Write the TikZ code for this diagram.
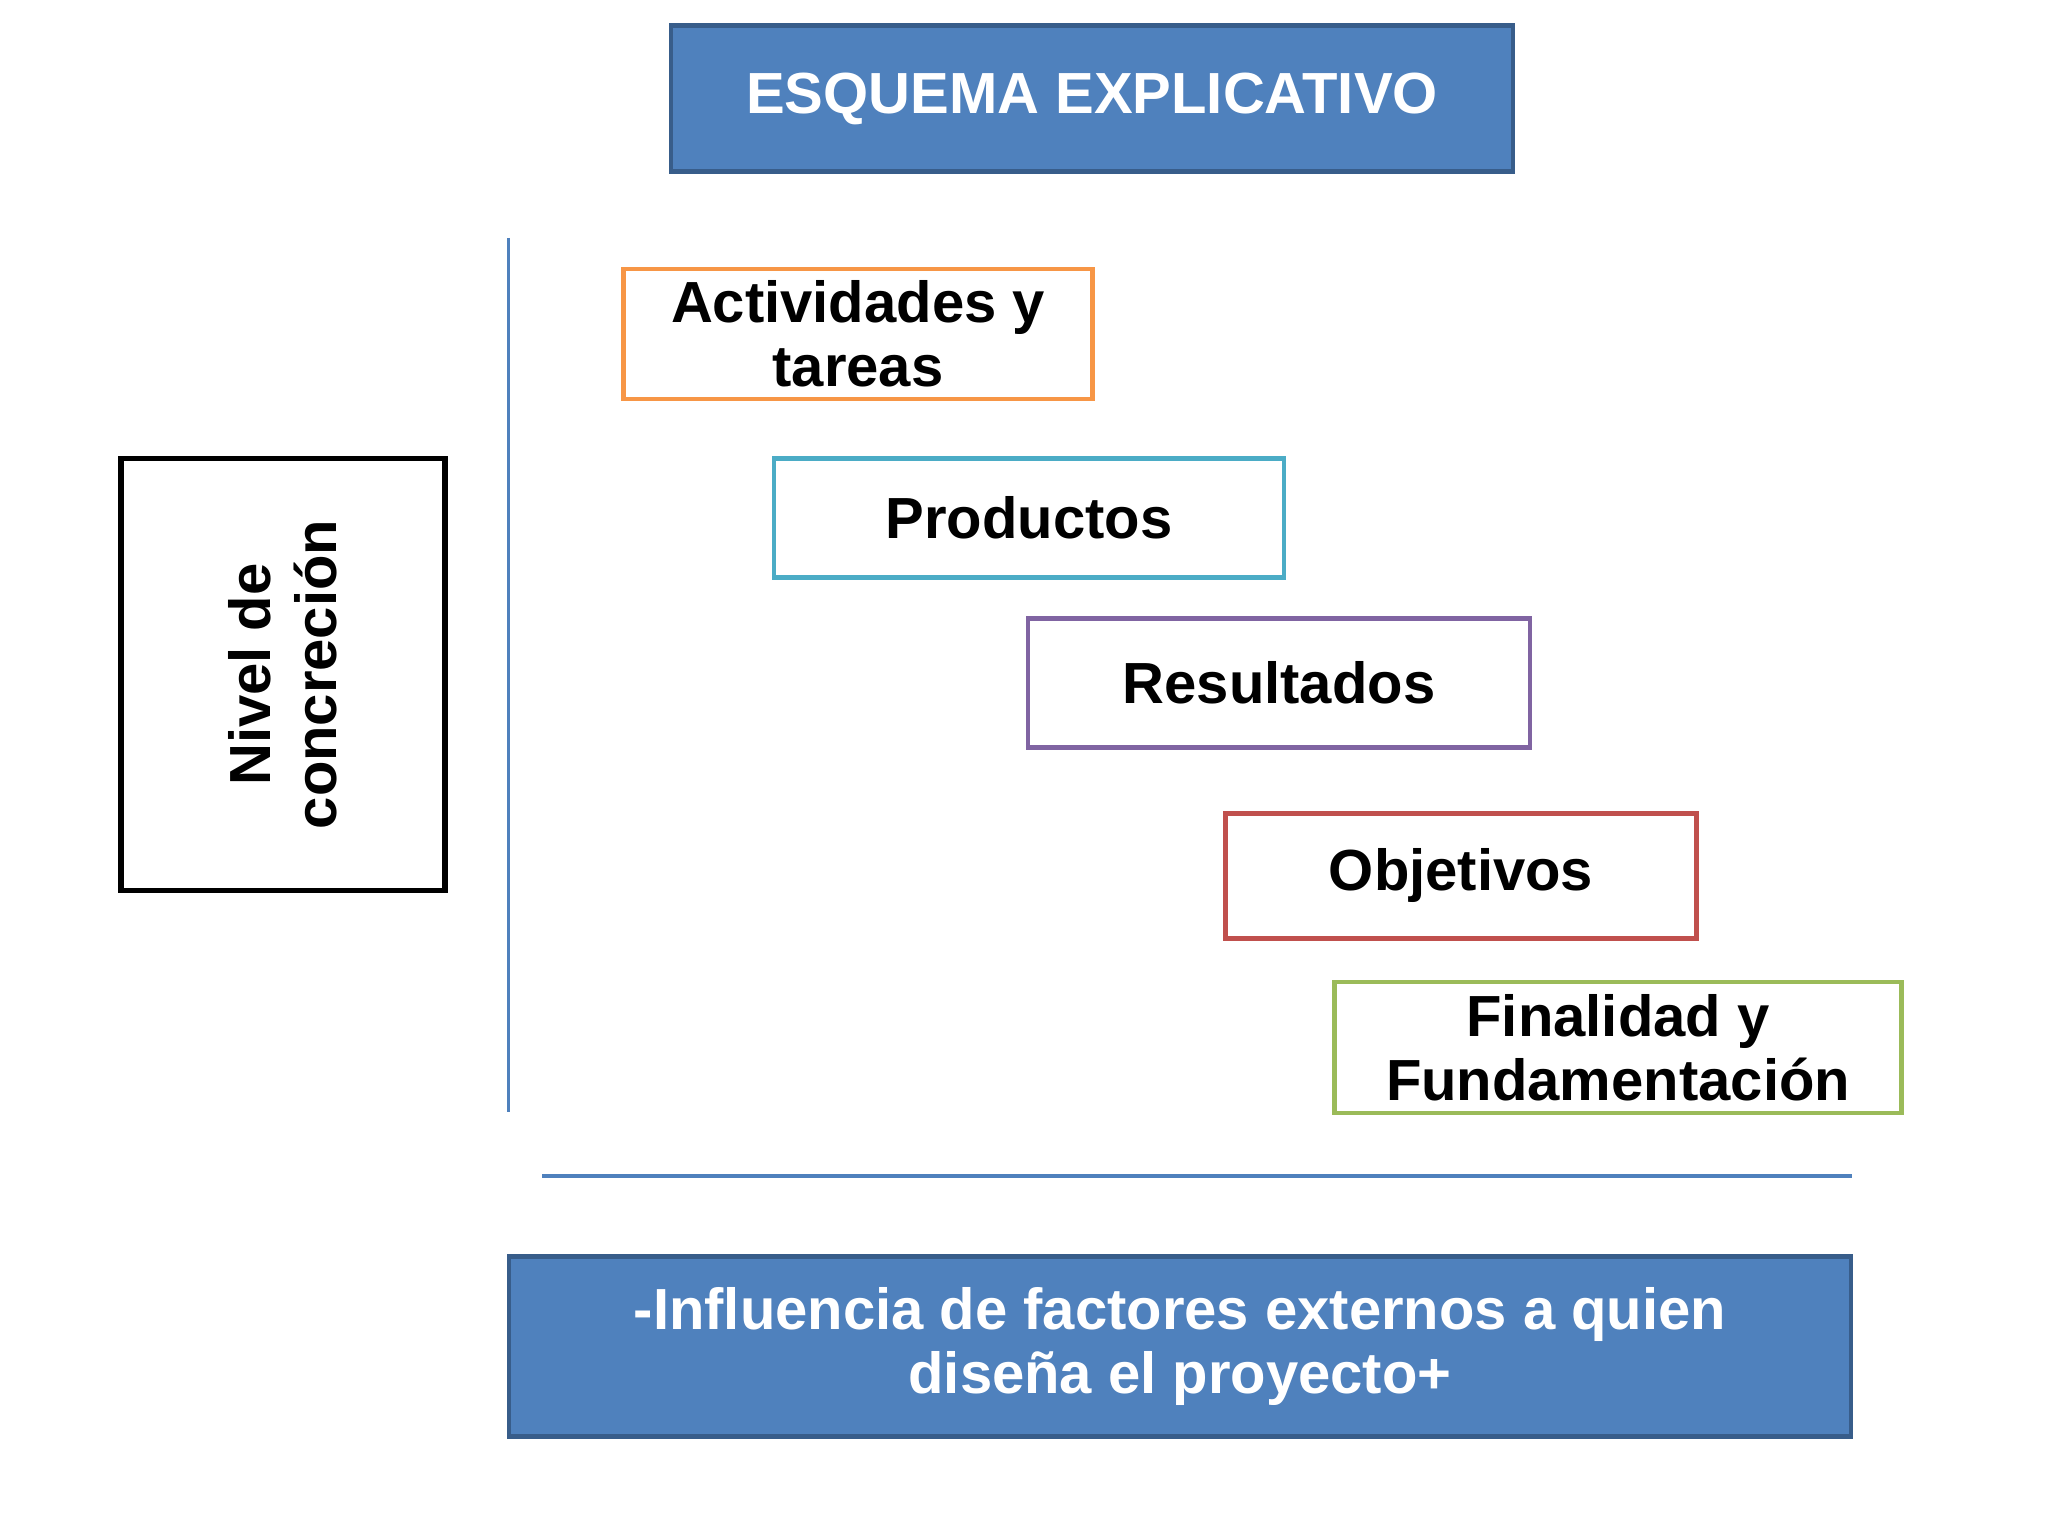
\documentclass[tikz,border=0pt]{standalone}
\usepackage{fontspec}
\usepackage{xcolor}
\usepackage{tikz}
\setmainfont{Liberation Sans}

\definecolor{azul}{HTML}{4F81BD}
\definecolor{azulborde}{HTML}{385D8A}
\definecolor{naranja}{HTML}{F79646}
\definecolor{celeste}{HTML}{4BACC6}
\definecolor{morado}{HTML}{8064A2}
\definecolor{rojo}{HTML}{C0504D}
\definecolor{verde}{HTML}{9BBB59}

\tikzset{
  caja/.style={draw, line width=1.2pt, fill=white, align=center,
    font=\fontsize{16.5}{18.3}\selectfont\bfseries},
  cajazul/.style={draw=azulborde, line width=1.4pt, fill=azul, text=white,
    align=center, font=\fontsize{16.5}{18}\selectfont\bfseries}
}

\begin{document}
\begin{tikzpicture}
  \useasboundingbox (0,0) rectangle (20.48,15.36);
  \node[cajazul, minimum width=8.42cm, minimum height=1.46cm] (titulo) at (10.92,14.375) {ESQUEMA EXPLICATIVO};
  \node[caja, draw=naranja, minimum width=4.69cm, minimum height=1.29cm] (actividades) at (8.58,12.02) {Actividades y\\tareas};
  \node[caja, draw=celeste, minimum width=5.10cm, minimum height=1.19cm] (productos) at (10.29,10.18) {Productos};
  \node[caja, draw=morado, minimum width=5.02cm, minimum height=1.29cm] (resultados) at (12.79,8.53) {Resultados};
  \node[caja, draw=rojo, minimum width=4.71cm, minimum height=1.25cm] (objetivos) at (14.61,6.60) {Objetivos};
  \node[caja, draw=verde, minimum width=5.67cm, minimum height=1.30cm] (finalidad) at (16.18,4.885) {Finalidad y\\Fundamentación};
  \node[caja, draw=black, line width=1.5pt, rotate=90, minimum width=4.32cm, minimum height=3.24cm,
    font=\fontsize{16.5}{18.8}\selectfont\bfseries] (nivel) at (2.83,8.615) {Nivel de\\concreción};
  \node[cajazul, minimum width=13.42cm, minimum height=1.80cm] (factores) at (11.80,1.895) {-Influencia de factores externos a quien\\diseña el proyecto+};
  % ejes
  \coordinate (ejearriba) at (5.085,12.98);
  \coordinate (ejeabajo) at (5.085,4.24);
  \coordinate (baseizq) at (5.42,3.60);
  \coordinate (baseder) at (18.52,3.60);
  \draw[azul, line width=0.9pt] (ejearriba) -- (ejeabajo);
  \draw[azul, line width=0.9pt] (baseizq) -- (baseder);
\end{tikzpicture}
\end{document}
